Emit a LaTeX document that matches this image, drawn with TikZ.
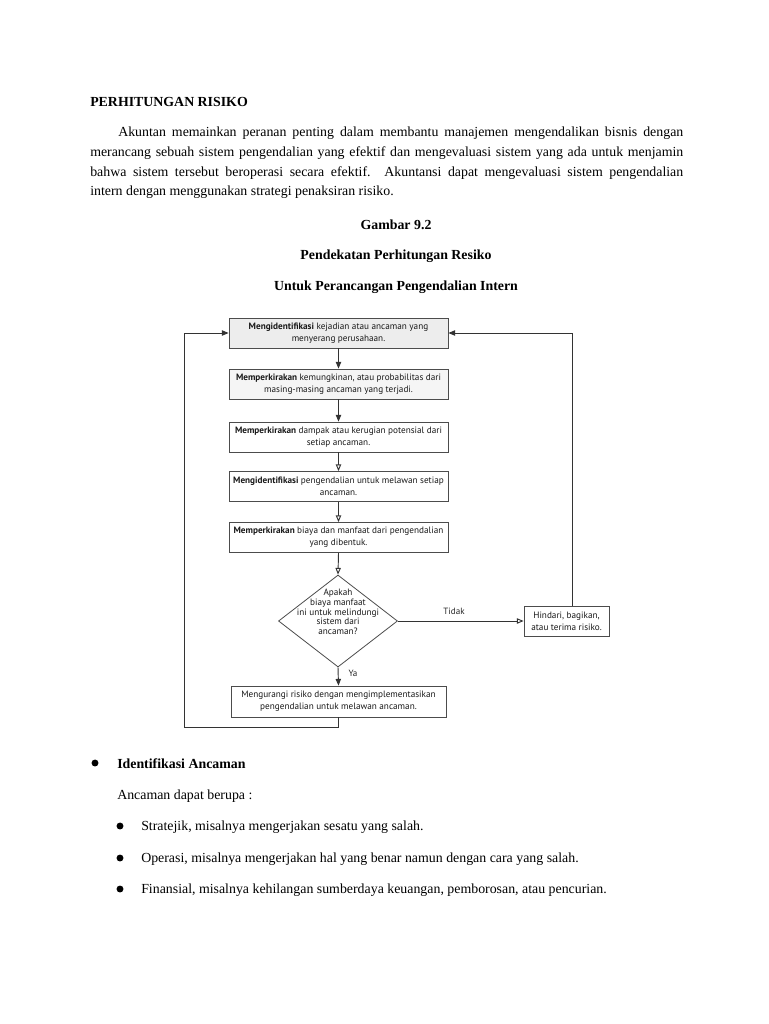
\documentclass[tikz,border=0pt]{standalone}
\usepackage{fontspec}
\setmainfont{Liberation Serif}
\newfontfamily\fcsans{PT Sans}
\usetikzlibrary{arrows.meta,shapes.geometric}
\begin{document}
\begin{tikzpicture}[x=0.75pt,y=-0.75pt,
  body/.style={font=\fontsize{10.4}{12.5}\selectfont, inner sep=0, anchor=base west},
  bodyb/.style={body, font=\fontsize{10.4}{12.5}\selectfont\bfseries},
  captxt/.style={font=\fontsize{10.4}{12.5}\selectfont\bfseries, inner sep=0, anchor=base},
  fbox/.style={draw=black!70, line width=0.6pt, minimum width=164.25pt, minimum height=22.5pt,
    inner sep=0, align=center, font=\fcsans\fontsize{6.9}{9}\selectfont, text=black!90},
  dmd/.style={draw=black!70, line width=0.6pt, shape=diamond, minimum width=89.25pt,
    minimum height=69pt, inner sep=0},
  lbl/.style={font=\fcsans\fontsize{6.8}{7.2}\selectfont, text=black!85, inner sep=0},
  conn/.style={draw=black!80, line width=0.7pt},
  arr/.style={conn, -{Triangle[length=5pt,width=4pt]}},
  oarr/.style={conn, -{Triangle[open,length=5pt,width=4pt,fill=white]}},
  dot/.style={circle, fill=black, inner sep=0, minimum size=5.2pt}
]
\useasboundingbox (0,0) rectangle (768,1024);
\fill[white] (0,0) rectangle (768,1024);

% heading and paragraph
\node[bodyb] (title) at (90,106) {PERHITUNGAN RISIKO};
\node[body] (p1) at (118,137) {\makebox[423.75pt][s]{Akuntan memainkan peranan penting dalam membantu manajemen mengendalikan bisnis dengan}};
\node[body] (p2) at (90,156.5) {\makebox[444.75pt][s]{merancang sebuah sistem pengendalian yang efektif dan mengevaluasi sistem yang ada untuk menjamin}};
\node[body] (p3) at (90,176) {\makebox[444.75pt][s]{bahwa sistem tersebut beroperasi secara efektif. Akuntansi dapat mengevaluasi sistem pengendalian}};
\node[body] (p4) at (90,195.5) {intern dengan menggunakan strategi penaksiran risiko.};

% caption
\node[captxt] (c1) at (396,229) {Gambar 9.2};
\node[captxt] (c2) at (396,259) {Pendekatan Perhitungan Resiko};
\node[captxt] (c3) at (396,290) {Untuk Perancangan Pengendalian Intern};

% flowchart
\node[fbox, fill=black!7] (b1) at (338.5,333) {\textbf{Mengidentifikasi} kejadian atau ancaman yang\\menyerang perusahaan.};
\node[fbox, fill=black!4] (b2) at (338.5,384) {\textbf{Memperkirakan} kemungkinan, atau probabilitas dari\\masing-masing ancaman yang terjadi.};
\node[fbox] (b3) at (338.5,437) {\textbf{Memperkirakan} dampak atau kerugian potensial dari\\setiap ancaman.};
\node[fbox] (b4) at (338.5,486.5) {\textbf{Mengidentifikasi} pengendalian untuk melawan setiap\\ancaman.};
\node[fbox] (b5) at (338.5,537.5) {\textbf{Memperkirakan} biaya dan manfaat dari pengendalian\\yang dibentuk.};
\node[dmd] (d) at (338,621) {};
\node[align=center, inner sep=0, font=\fcsans\fontsize{6.9}{7.3}\selectfont, text=black!90] (dt) at (338,612) {Apakah\\biaya manfaat\\ini untuk melindungi\\sistem dari\\ancaman?};
\node[fbox, minimum width=63.75pt] (b6) at (566.5,621) {Hindari, bagikan,\\atau terima risiko.};
\node[fbox, minimum width=161.25pt, minimum height=23.25pt] (b7) at (338.5,701.5) {Mengurangi risiko dengan mengimplementasikan\\pengendalian untuk melawan ancaman.};

\draw[arr] (b1) -- (b2);
\draw[arr] (b2) -- (b3);
\draw[oarr] (b3) -- (b4);
\draw[oarr] (b4) -- (b5);
\draw[oarr] (b5.south) -- (d.north);
\draw[arr] (d.south) -- (b7.north);
\draw[oarr] (d.east) -- (b6.west);
\node[lbl] (tidak) at (454,611) {Tidak};
\node[lbl] (ya) at (353,673) {Ya};

\coordinate (r1) at (572,333);
\draw[arr] (b6.north -| r1) -- (r1) -- (b1.east);
\coordinate (l1) at (184,727);
\draw[arr] (b7.south) -- (b7.south |- l1) -- (l1) -- (l1 |- b1.west) -- (b1.west);

% bullets
\node[dot] (u0) at (95,763) {};
\node[bodyb] (t0) at (117,768) {Identifikasi Ancaman};
\node[body] (t1) at (117,799.5) {Ancaman dapat berupa :};
\node[dot] (u2) at (120,826) {};
\node[body] (t2) at (141,830.5) {Stratejik, misalnya mengerjakan sesatu yang salah.};
\node[dot] (u3) at (120,858) {};
\node[body] (t3) at (141,862.5) {Operasi, misalnya mengerjakan hal yang benar namun dengan cara yang salah.};
\node[dot] (u4) at (120,889) {};
\node[body] (t4) at (141,893.5) {Finansial, misalnya kehilangan sumberdaya keuangan, pemborosan, atau pencurian.};
\end{tikzpicture}
\end{document}
